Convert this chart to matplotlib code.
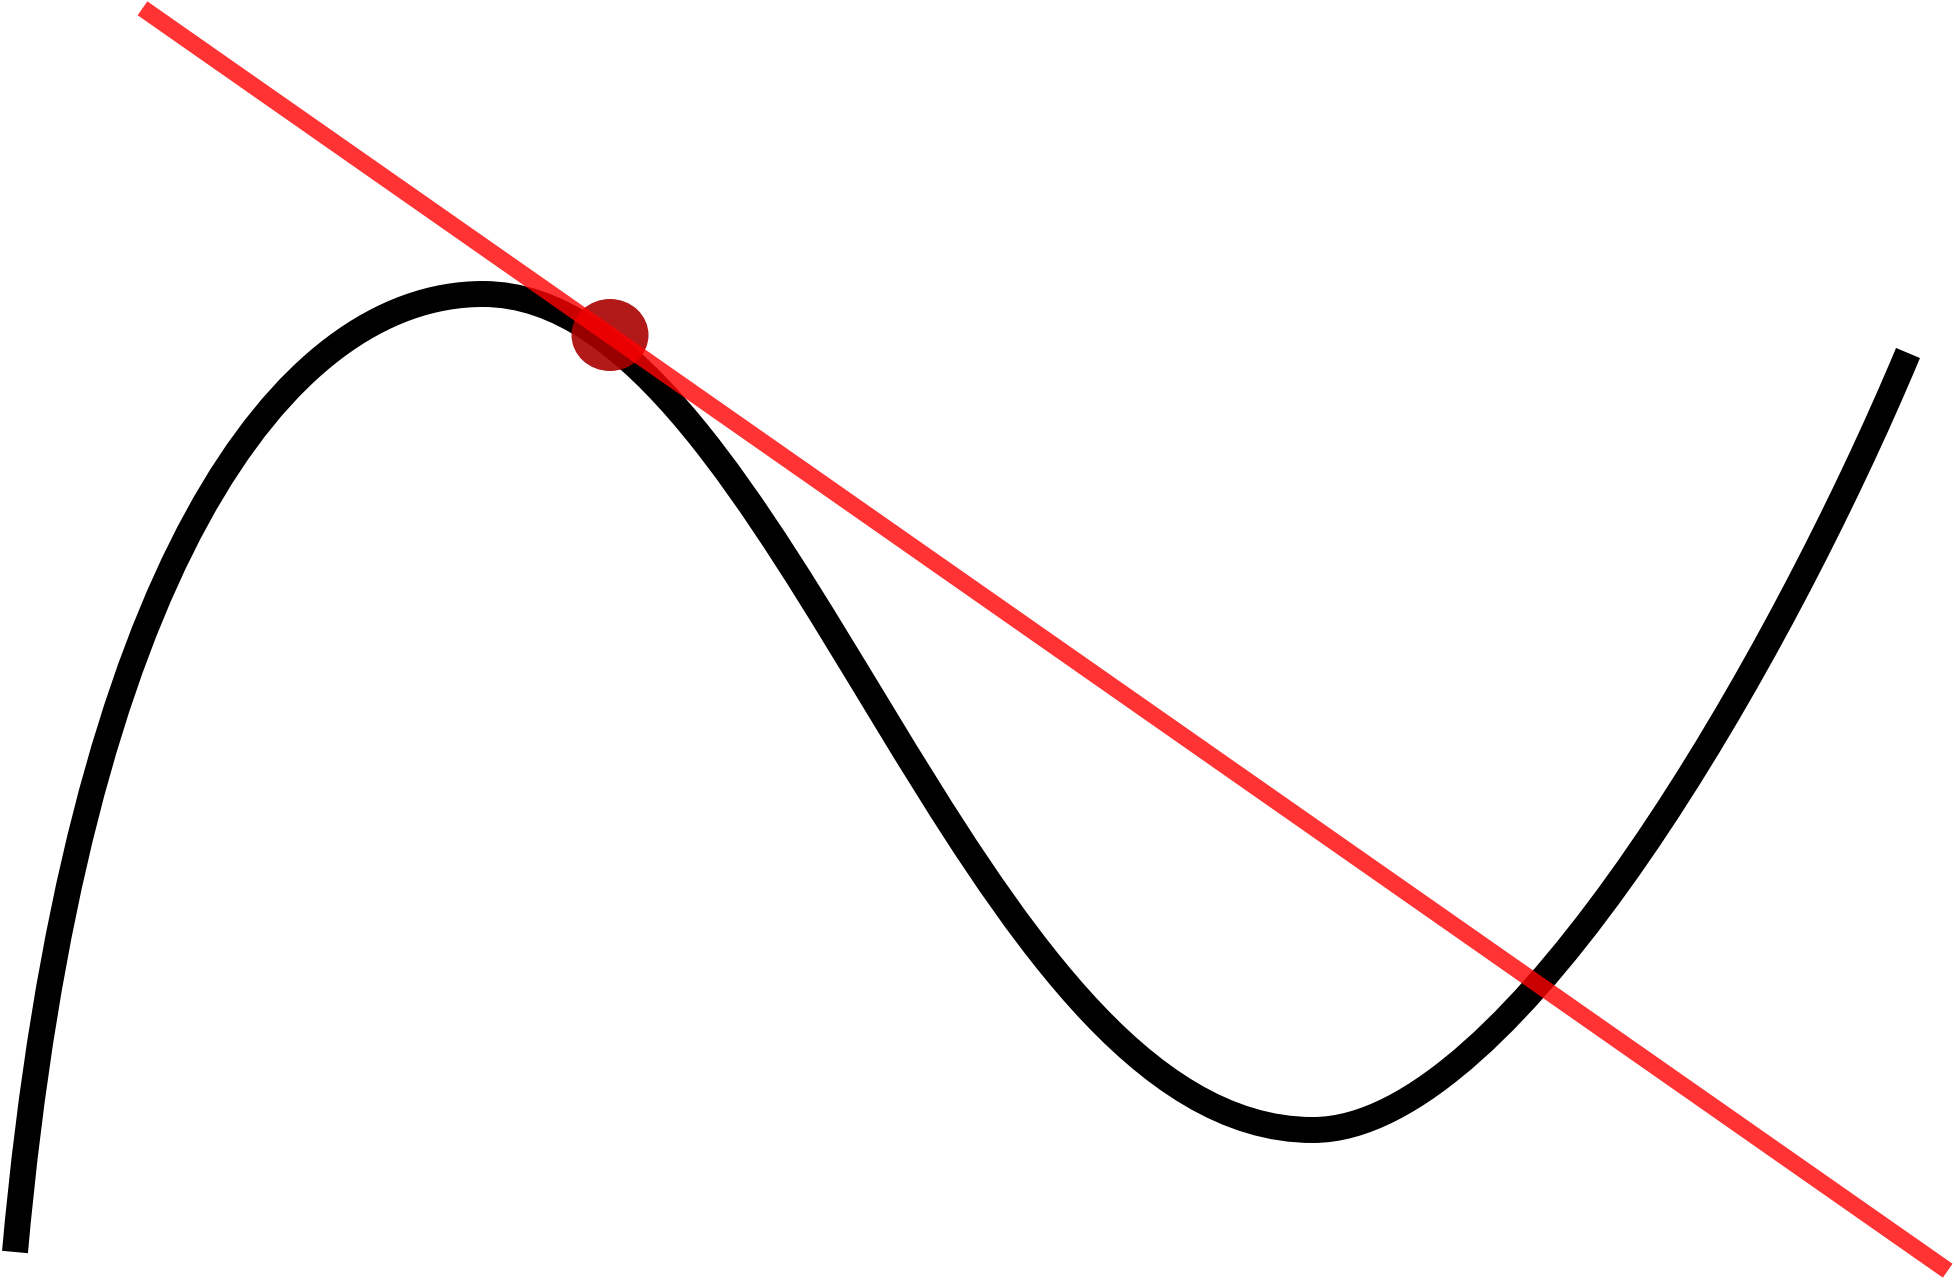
import matplotlib
matplotlib.use("Agg")
import matplotlib.pyplot as plt
from matplotlib.patches import Ellipse, PathPatch
from matplotlib.path import Path

# Curve: anchor points and Bezier handles
# (pixel-space units, y downward): start, peak, trough, end
curve_x = [15, 76, 283, 483, 783, 968, 1313, 1513, 1782.6, 1908]
curve_y = [1252, 572, 294, 294, 294, 1130, 1130, 1130, 653, 353]

# Tangent line end points
line_x = [142.5, 1947.7]
line_y = [8.3, 1270.7]

# Highlighted point
point_x = 610
point_y = 335

fig = plt.figure(figsize=(19.54, 12.80), dpi=100)
ax = fig.add_axes([0, 0, 1, 1])
ax.set_xlim(0, 1954)
ax.set_ylim(1280, 0)
ax.axis("off")

verts = list(zip(curve_x, curve_y))
codes = [Path.MOVETO] + [Path.CURVE4] * (len(verts) - 1)
ax.add_patch(PathPatch(Path(verts, codes), facecolor="none", edgecolor="black",
                       lw=18.7, capstyle="butt", joinstyle="round", zorder=1))
ax.add_patch(Ellipse((point_x, point_y), 77, 72, facecolor="#AA0000",
                     edgecolor="none", alpha=0.9, zorder=2))
ax.plot(line_x, line_y, color="#FF0000", alpha=0.8, lw=12.2,
        solid_capstyle="butt", zorder=3)

fig.savefig("out.png", dpi=100, facecolor="white")
